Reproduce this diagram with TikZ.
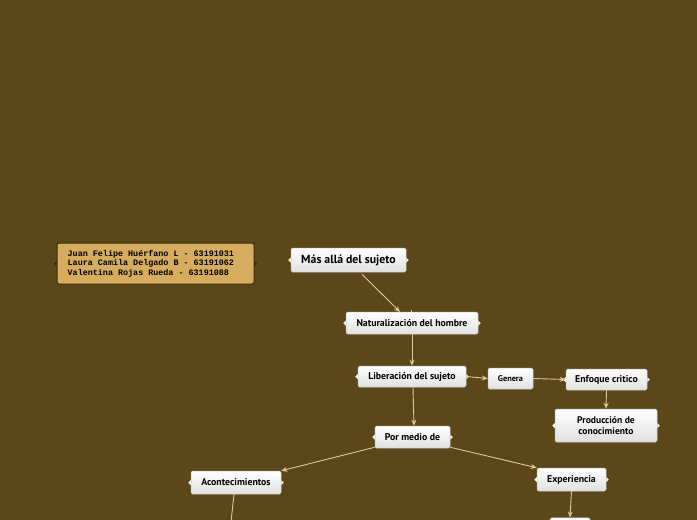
\documentclass[tikz,border=0pt]{standalone}
\usepackage{fontspec}
\setmainfont{PT Sans}
\newfontfamily\monof{Liberation Mono}
\usetikzlibrary{arrows.meta}
\definecolor{bg}{RGB}{91,71,26}
\definecolor{authfill}{RGB}{214,173,94}
\definecolor{authline}{RGB}{55,40,12}
\definecolor{edge}{RGB}{225,200,150}
\definecolor{nodeline}{RGB}{200,200,200}
\tikzset{
  topic/.style={draw=nodeline, line width=0.5pt, rounded corners=1.5pt, top color=white, bottom color=black!12,
    font=\bfseries\fontsize{9.8}{10.5}\selectfont, text=black, inner sep=0pt, align=center},
  conn/.style={draw=edge, line width=0.9pt, -{Stealth[length=6pt,width=5pt]}},
  plainconn/.style={draw=edge, line width=0.9pt},
}
\newcommand{\notches}[2]{%
  \fill[#2] ([yshift=-2.5pt]#1.west) -- ++(-2.5pt,2.5pt) -- ++(2.5pt,2.5pt) -- cycle;
  \fill[#2] ([yshift=-2.5pt]#1.east) -- ++(2.5pt,2.5pt) -- ++(-2.5pt,2.5pt) -- cycle;
}
\begin{document}
\begin{tikzpicture}[x=1pt,y=-1pt]
\fill[bg] (0,0) rectangle (697,520);
\useasboundingbox (0,0) rectangle (697,520);

\node[draw=authline, line width=1pt, fill=authfill, rounded corners=2pt, minimum width=197pt, minimum height=41pt,
  inner sep=0pt] (auth) at (155.5,263.5) {};
\node[anchor=west, inner sep=0pt, align=left, font=\monof\bfseries\fontsize{8.4}{9.6}\selectfont, text=black] (authtext) at (67.5,263.5)
  {Juan Felipe Huérfano L - 63191031\\Laura Camila Delgado B - 63191062\\Valentina Rojas Rueda - 63191088};
\notches{auth}{authline}

\node[topic, font=\bfseries\fontsize{11.8}{13}\selectfont, minimum width=115pt, minimum height=24pt] (mas) at (348.5,260) {Más allá del sujeto};
\node[topic, minimum width=132pt, minimum height=22pt] (nat) at (412,323) {Naturalización del hombre};
\node[topic, minimum width=108pt, minimum height=21pt] (lib) at (412,376.5) {Liberación del sujeto};
\node[topic, font=\bfseries\fontsize{8.3}{9}\selectfont, minimum width=45pt, minimum height=21pt] (gen) at (510.5,378.5) {Genera};
\node[topic, minimum width=81pt, minimum height=21pt] (enf) at (606.5,379.5) {Enfoque critico};
\node[topic, font=\bfseries\fontsize{9.6}{10.8}\selectfont, minimum width=102pt, minimum height=33pt] (prod) at (606,425.5) {Producción de\\conocimiento};
\node[topic, minimum width=75pt, minimum height=22pt] (por) at (412.5,437) {Por medio de};
\node[topic, minimum width=90pt, minimum height=23pt] (acon) at (236,482.5) {Acontecimientos};
\node[topic, minimum width=69pt, minimum height=23pt] (exp) at (571.5,479.5) {Experiencia};
\node[topic, minimum width=40pt, minimum height=20pt, anchor=north] (low) at (570,517.5) {};
\coordinate (aconend) at (231,522);

\foreach \n in {mas,nat,lib,enf,prod,por,acon,exp}{\notches{\n}{white}}

\draw[conn] (mas.south -| 362,0) ++(0,2) -- (400,312);
\draw[plainconn] (411.5,310) -- (nat.north -| 411.5,0);
\draw[conn] (nat.south) -- (lib.north);
\draw[conn] (lib.east) -- (gen.west);
\draw[conn] (gen.east) -- (enf.west);
\draw[conn] (enf.south) -- (prod.north);
\draw[conn] (lib.south -| 413,0) -- (por.north -| 414,0);
\draw[conn] (por.south west) ++(0,-1) -- (acon.north east);
\draw[conn] (por.south east) ++(0,-1) -- (exp.north west);
\draw[conn] (exp.south) -- (low.north);
\draw[plainconn] (acon.south -| 234,0) -- (aconend);
\end{tikzpicture}
\end{document}
